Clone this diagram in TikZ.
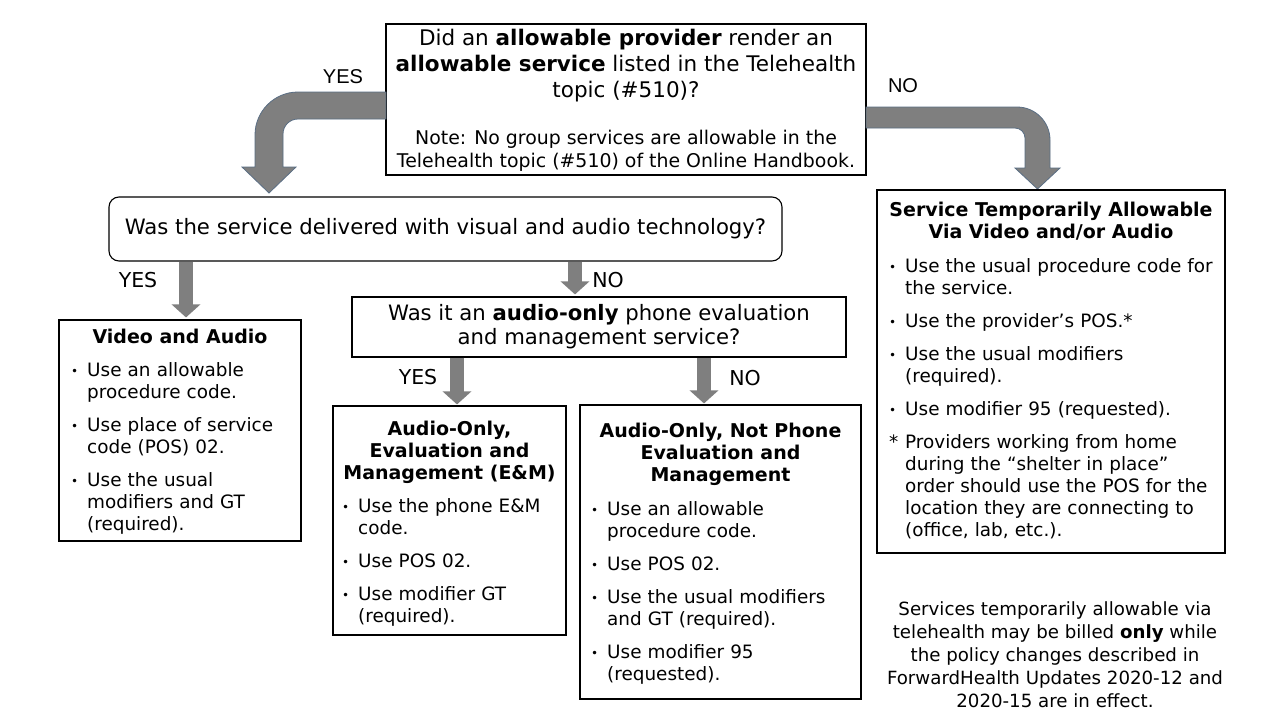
\documentclass[tikz,border=0pt]{standalone}
\usepackage{fontspec}
\setmainfont{DejaVu Sans}
\newfontfamily\lblfont{Liberation Sans}
\usetikzlibrary{arrows.meta}
\definecolor{arrgray}{HTML}{7F7F7F}
\definecolor{arredge}{HTML}{5A6E84}
\newcommand\nl{\hfil\break}
\newcommand\fb[1]{\noindent\hangindent=16pt\hangafter=1\makebox[16pt][l]{\raisebox{1pt}{\fontsize{12}{12}\selectfont •}}#1}
\newcommand\nb[1]{\par\vspace{11pt}\fb{#1}}
\newcommand\fs[1]{\par\vspace{11pt}\noindent\hangindent=16pt\hangafter=1\makebox[16pt][l]{*}#1}
\begin{document}
\begin{tikzpicture}[x=1pt,y=-1pt,
  box/.style={draw=black,line width=1.1pt,inner sep=0pt},
  ttl/.style={anchor=north,align=center,inner sep=0pt,font=\fontsize{19}{22}\selectfont\bfseries},
  lst/.style={anchor=north west,align=left,inner sep=0pt,font=\fontsize{18.4}{22}\selectfont},
  lbl/.style={inner sep=0pt,font=\fontsize{20.5}{24}\selectfont},
  toplbl/.style={inner sep=0pt,font=\lblfont\fontsize{20}{24}\selectfont},
  bigarr/.style={fill=arrgray,draw=arredge,line width=0.8pt},
  smallarr/.style={draw=arrgray,line width=14pt,-{Triangle[width=28pt,length=13pt]}}]
\fill[white] (0,0) rectangle (1280,720);
\useasboundingbox (0,0) rectangle (1280,720);

% top question
\node[box, minimum width=480pt, minimum height=151pt] (q) at (626,99.5) {};
\node[anchor=north, align=center, inner sep=0pt, font=\fontsize{21.5}{26}\selectfont] (qm) at (626,29)
  {Did an \textbf{allowable provider} render an\\ \textbf{allowable service} listed in the Telehealth\\ topic (\#510)?};
\node[anchor=north, align=center, inner sep=0pt, font=\fontsize{18.9}{23}\selectfont] (qn) at (626,130)
  {Note: No group services are allowable in the\\ Telehealth topic (\#510) of the Online Handbook.};

% big arrows
\filldraw[bigarr] (386,92) -- (298,92) .. controls (274.25,92) and (255,111.25) .. (255,135) -- (255,167) -- (242,167) -- (269,193) -- (296,167) -- (283,167) -- (283,134) .. controls (283,125.7) and (289.7,119) .. (298,119) -- (386,119) -- cycle;
\filldraw[bigarr] (866,107) -- (1017,107) .. controls (1035.2,107) and (1050,121.8) .. (1050,140) -- (1050,168) -- (1060,168) -- (1037.5,189) -- (1015,168) -- (1025,168) -- (1025,138) .. controls (1025,132.5) and (1020.5,128) .. (1015,128) -- (866,128) -- cycle;
\node[toplbl] (yes0) at (343,77) {YES};
\node[toplbl] (no0) at (903,86) {NO};

% second level question
\node[box, rounded corners=10pt, minimum width=673pt, minimum height=64pt, font=\fontsize{21.2}{24}\selectfont] (vis) at (445.5,229)
  {Was the service delivered with visual and audio technology?};

% audio-only question
\node[box, minimum width=494pt, minimum height=60pt, align=center, font=\fontsize{21.2}{24}\selectfont] (aq) at (599,327)
  {Was it an \textbf{audio-only} phone evaluation\\ and management service?};

% Video and audio box
\node[box, minimum width=242pt, minimum height=221pt] (va) at (180,430.5) {};
\node[ttl] (vat) at (180,329) {Video and Audio};
\node[lst, text width=226pt] (val) at (71,362)
  {\fb{Use an allowable\nl procedure code.}\nb{Use place of service\nl code (POS) 02.}\nb{Use the usual\nl modifiers and GT\nl (required).}\par};

% E&M box
\node[box, minimum width=233pt, minimum height=229pt] (em) at (449.5,520.5) {};
\node[ttl] (emt) at (449.5,421) {Audio-Only,\\ Evaluation and\\ Management (E\&M)};
\node[lst, text width=220pt] (eml) at (342,498)
  {\fb{Use the phone E\&M\nl code.}\nb{Use POS 02.}\nb{Use modifier GT\nl (required).}\par};

% Not phone box
\node[box, minimum width=281pt, minimum height=294pt] (np) at (720.5,552) {};
\node[ttl] (npt) at (720.5,423) {Audio-Only, Not Phone\\ Evaluation and\\ Management};
\node[lst, text width=268pt] (npl) at (591,501)
  {\fb{Use an allowable\nl procedure code.}\nb{Use POS 02.}\nb{Use the usual modifiers\nl and GT (required).}\nb{Use modifier 95\nl (requested).}\par};

% Temporarily allowable box
\node[box, minimum width=348pt, minimum height=363pt] (tp) at (1051,371.5) {};
\node[ttl] (tpt) at (1051,202) {Service Temporarily Allowable\\ Via Video and/or Audio};
\node[lst, text width=332pt] (tpl) at (889,258)
  {\fb{Use the usual procedure code for\nl the service.}\nb{Use the provider’s POS.*}\nb{Use the usual modifiers\nl (required).}\nb{Use modifier 95 (requested).}\fs{Providers working from home\nl during the “shelter in place”\nl order should use the POS for the\nl location they are connecting to\nl (office, lab, etc.).}\par};

% footer note
\node[anchor=north, align=center, inner sep=0pt, font=\fontsize{18.2}{23}\selectfont] (foot) at (1055,601)
  {Services temporarily allowable via\\ telehealth may be billed \textbf{only} while\\ the policy changes described in\\ ForwardHealth Updates 2020-12 and\\ 2020-15 are in effect.};

% small arrows
\draw[smallarr] (vis.south -| 186,0) -- ([yshift=2pt]va.north -| 186,0);
\draw[smallarr] (vis.south -| 575,0) -- ([yshift=2pt]aq.north -| 575,0);
\draw[smallarr] (aq.south -| 457,0) -- ([yshift=1pt]em.north -| 457,0);
\draw[smallarr] (aq.south -| 704,0) -- ([yshift=1pt]np.north -| 704,0);
\node[lbl] (yes1) at (138,280) {YES};
\node[lbl] (no1) at (608,280) {NO};
\node[lbl] (yes2) at (418,377) {YES};
\node[lbl] (no2) at (745,378) {NO};
\end{tikzpicture}
\end{document}
